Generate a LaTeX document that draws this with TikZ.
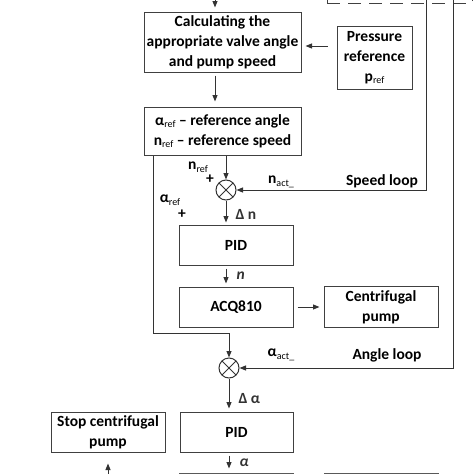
\documentclass[tikz,border=0pt]{standalone}
\usepackage{fontspec}
\setmainfont{Carlito}
\usetikzlibrary{positioning,arrows.meta,calc}
\newcommand{\lowsub}[1]{\raisebox{-0.35ex}{\fontsize{10}{10}\selectfont\mdseries #1}}
\tikzset{
  blk/.style={rectangle, draw=black!75, line width=1pt, align=center,
    font=\fontsize{15.5}{20}\selectfont\bfseries, inner sep=2pt},
  sumnode/.style={circle, draw=black!80, line width=1pt, minimum size=20pt, inner sep=0pt,
    path picture={\draw[black!80, line width=1pt]
      (path picture bounding box.north west) -- (path picture bounding box.south east)
      (path picture bounding box.north east) -- (path picture bounding box.south west);}},
  arr/.style={-{Triangle[length=6.5pt,width=5pt]}, line width=1pt, black!80},
  lbl/.style={font=\fontsize{15.5}{18}\selectfont\bfseries, inner sep=1pt},
  ital/.style={font=\fontsize{15.5}{18}\selectfont\bfseries\itshape, inner sep=1pt},
}
\begin{document}
\begin{tikzpicture}[x=1pt,y=-1pt]
  \useasboundingbox (0,0) rectangle (474,474);
  \clip (0,0) rectangle (474,474);

  % top: dashed block and inputs coming from above
  \node[draw=black!75, dash pattern=on 13pt off 8pt, line width=1pt,
    minimum width=145pt, minimum height=46pt] (dbox) at (399.5,-20) {};
  \coordinate (intop) at (215,-4);
  \coordinate (spdtop) at (426,-10);
  \coordinate (angtop) at (453,-10);

  % reference calculation
  \node[blk, minimum width=157pt, minimum height=60pt] (calc) at (222.5,42)
    {Calculating the\\appropriate valve angle\\and pump speed};
  \node[blk, minimum width=75pt, minimum height=63pt] (pref) at (374.5,57.5)
    {Pressure\\reference\\p\lowsub{ref}};
  \node[blk, minimum width=157pt, minimum height=48pt, below=34pt of calc] (refs)
    {α\lowsub{ref} – reference angle\\n\lowsub{ref} – reference speed};

  % speed loop
  \node[sumnode] (sum1) at (226,190) {};
  \node[blk, minimum width=114pt, minimum height=40pt] (pid1) at (236,245) {PID};
  \node[blk, minimum width=114pt, minimum height=40pt, below=21pt of pid1] (acq) {ACQ810};
  \node[blk, minimum width=114pt, minimum height=41pt, right=30pt of acq] (pump) {Centrifugal\\pump};

  % angle loop
  \node[sumnode] (sum2) at (229,368) {};
  \node[blk, minimum width=113pt, minimum height=40pt] (pid2) at (236.5,432) {PID};
  \node[blk, minimum width=114pt, minimum height=40pt, left=14pt of pid2] (stop) {Stop centrifugal\\pump};
  \node[blk, draw=black!65, minimum width=114pt, minimum height=40pt, below=20pt of pid2] (bot1) {};
  \node[blk, draw=black!65, minimum width=114pt, minimum height=40pt, right=30pt of bot1] (bot2) {};

  % labels
  \node[lbl] (nref) at (198,167) {n\lowsub{ref}};
  \node[lbl] (nplus) at (210,179) {+};
  \node[lbl] (nact) at (281,182) {n\lowsub{act\_}};
  \node[lbl] (spdlbl) at (382,181) {Speed loop};
  \node[lbl] (arefl) at (170,200) {α\lowsub{ref}};
  \node[lbl] (aplus) at (182,214) {+};
  \node[lbl] (aact) at (281,355) {α\lowsub{act\_}};
  \node[lbl] (anglbl) at (387,355) {Angle loop};

  % connectors
  \coordinate (pin) at ([yshift=-4pt]calc.east);
  \coordinate (aref) at (153,0);
  \coordinate (abend) at (229,333);
  \coordinate (stopin) at (108,490);
  \draw[arr, shorten >=4pt] (intop) -- (intop |- calc.north);
  \draw[arr, shorten <=3pt, shorten >=5pt] (calc.south -| intop) -- (refs.north -| intop);
  \draw[arr, shorten <=9pt, shorten >=4pt] (pin -| pref.west) -- (pin);
  \draw[arr] (refs.south -| sum1) -- (sum1.north);
  \draw[arr] (spdtop) |- (sum1.east);
  \draw[arr, shorten >=2pt] (sum1) -- node[lbl, right=8pt, pos=0.6] {Δ n} (sum1 |- pid1.north);
  \draw[arr, shorten <=3pt, shorten >=3pt] (pid1.south -| sum1) -- node[ital, right=9pt] {n} (acq.north -| sum1);
  \draw[arr, shorten <=4pt, shorten >=4pt] (acq) -- (pump);
  \draw[arr] (refs.south -| aref) |- (abend) -- (sum2.north);
  \draw[arr] (angtop) |- (sum2.east);
  \draw[arr, shorten >=3pt] (sum2) -- node[lbl, right=8pt, pos=0.6] {Δ α} (sum2 |- pid2.north);
  \draw[arr, shorten <=3pt, shorten >=4pt] (pid2.south -| sum2) -- node[ital, right=9pt] {α} (bot1.north -| sum2);
  \draw[arr, shorten >=11pt] (stopin) -- (stop.south -| stopin);
\end{tikzpicture}
\end{document}
